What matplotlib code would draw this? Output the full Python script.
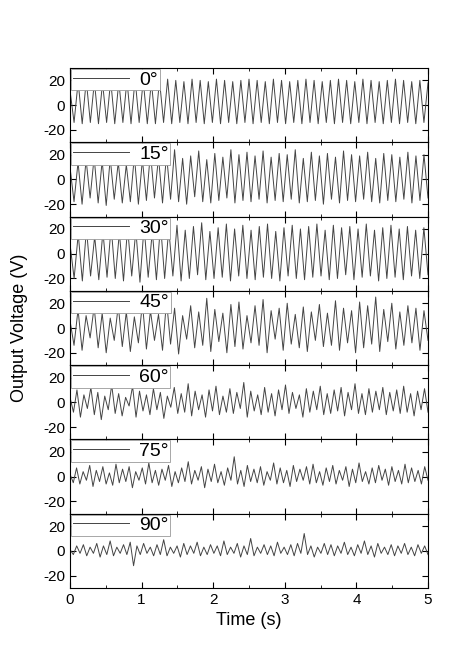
import numpy as np
import matplotlib
matplotlib.use("Agg")
import matplotlib.pyplot as plt

plt.rcParams['font.family'] = ['Liberation Sans', 'DejaVu Sans']
plt.rcParams['axes.unicode_minus'] = False

labels = ["0°", "15°", "30°", "45°", "60°", "75°", "90°"]

v0 = [12,-14,19,-15,20,-14,19,-15,18,-14,20,-15,19,-14,20,-15,21,-14,20,-15,19,-15,20,-14,21,-15,20,-14,19,-15,21,-14,20,-15,19,-14,21,-15,20,-14,19,-15,20,-14,21,-15,20,-14,19,-15,21,-14,20,-15,19,-14,20,-15,21,-14,20,-15,19,-14,20,-15,21,-14,20,-15,19,-14,21,-15,20,-14,19,-15,20,-14,21,-15,20,-14,19,-15,20,-14,18]
v15 = [10,-18,14,-20,16,-15,18,-19,15,-21,17,-16,14,-19,12,-18,19,-20,16,-17,22,-15,18,-19,20,-16,24,-18,17,-20,19,-14,23,-18,16,-19,21,-17,18,-15,24,-19,20,-17,22,-18,19,-16,23,-19,18,-17,21,-18,20,-16,24,-19,17,-18,22,-17,19,-20,21,-16,18,-19,23,-17,20,-18,19,-16,22,-18,17,-19,21,-17,20,-18,18,-16,22,-19,19,-17,20,-15]
v30 = [8,-20,16,-22,20,-18,14,-21,18,-19,22,-20,17,-22,21,-18,19,-23,22,-19,18,-21,24,-20,20,-18,23,-22,19,-20,22,-17,25,-21,18,-20,21,-19,24,-22,20,-18,23,-20,19,-21,22,-19,24,-20,18,-22,21,-18,23,-20,20,-21,22,-19,24,-18,19,-21,23,-20,21,-17,22,-21,20,-19,24,-18,19,-22,21,-20,23,-19,20,-21,22,-18,19,-20,21,-17]
v45 = [6,-14,15,-18,10,-8,17,-16,12,-20,8,-10,18,-15,13,-19,9,-12,20,-17,14,-10,11,-18,22,-13,16,-21,10,-9,18,-16,13,-14,24,-19,15,-11,12,-20,19,-15,21,-17,10,-12,18,-14,23,-20,14,-9,16,-18,20,-13,11,-16,17,-19,13,-10,19,-15,12,-14,22,-18,16,-12,14,-20,21,-16,18,-13,25,-19,15,-11,20,-17,13,-14,18,-12,16,-18,14,-10]
v60 = [4,-8,10,-12,6,-5,12,-10,8,-14,5,-6,14,-9,7,-11,4,-3,13,-12,9,-7,6,-10,11,-6,8,-13,5,-4,12,-9,7,-8,15,-11,9,-6,6,-12,10,-7,13,-10,5,-8,11,-9,8,-5,16,-12,9,-7,6,-10,12,-8,7,-11,10,-6,14,-9,8,-5,6,-12,11,-8,9,-6,13,-10,7,-9,10,-7,12,-11,8,-6,15,-9,7,-10,11,-8,9,-6,12,-10,8,-7,10,-9,13,-8,7,-11,9,-6,11,-8]
v75 = [2,-5,7,-6,4,-3,9,-8,5,-4,8,-6,3,-7,10,-5,6,-4,8,-9,4,-3,7,-6,11,-5,5,-7,6,-3,9,-8,4,-5,7,-4,12,-6,5,-3,8,-9,6,-4,10,-5,4,-7,7,-3,16,-6,5,-8,9,-4,6,-5,8,-7,4,-3,11,-6,7,-5,5,-8,9,-4,6,-3,8,-6,10,-5,4,-7,7,-4,9,-6,5,-3,8,-8,6,-5,11,-4,4,-6,7,-5,9,-3,6,-7,8,-4,5,-6,10,-5,7,-4,5,-6,8,-3]
v90 = [1,-3,4,-2,5,-4,3,-2,6,-5,4,-3,8,-4,3,-2,5,-3,7,-12,4,-3,6,-2,3,-4,5,-3,9,-4,3,-2,4,-5,6,-3,4,-2,7,-4,3,-3,5,-2,4,-4,8,-3,3,-2,6,-5,4,-3,10,-4,3,-2,5,-3,4,-4,7,-2,3,-3,5,-4,6,-2,14,-3,4,-5,3,-2,6,-3,5,-4,4,-2,7,-3,3,-4,5,-2,8,-3,4,-5,6,-2,3,-3,5,-4,4,-2,6,-3,3,-4,5,-2,4,-3]

series = [v0, v15, v30, v45, v60, v75, v90]

W, H = 474, 671
fig = plt.figure(figsize=(W/100, H/100), dpi=100)
left, right, top, bottom = 70/W, 428/W, 68/H, 588/H
n = len(series)
ph = (bottom - top)/n
for i, (lab, v) in enumerate(zip(labels, series)):
    y0 = 1 - top - (i+1)*ph
    ax = fig.add_axes([left, y0, right-left, ph])
    t = np.linspace(0, 5, len(v))
    ax.plot(t, v, color="#444444", lw=0.7)
    ax.set_xlim(0, 5)
    ax.set_ylim(-30, 30)
    ax.set_yticks([-20, 0, 20])
    ax.set_xticks([0, 1, 2, 3, 4, 5])
    ax.set_xticks(np.arange(0.5, 5, 1), minor=True)
    ax.tick_params(direction="in", top=True, right=True, which="both", labelsize=11, length=4)
    ax.tick_params(which="minor", length=2, left=False, right=False)
    if i < n-1:
        ax.tick_params(labelbottom=False)
    else:
        ax.set_xlabel("Time (s)", fontsize=13)
    leg = ax.legend([lab], loc="upper left", handlelength=2.9, fontsize=14,
                    borderaxespad=0.05, fancybox=False, framealpha=1,
                    edgecolor="#999999", borderpad=0.1, handletextpad=0.5)
    leg.get_frame().set_linewidth(0.6)
fig.text(20/W, 1-(328/H), "Output Voltage (V)", rotation=90, va="center", ha="center", fontsize=13)
fig.savefig("out.png", dpi=100)
